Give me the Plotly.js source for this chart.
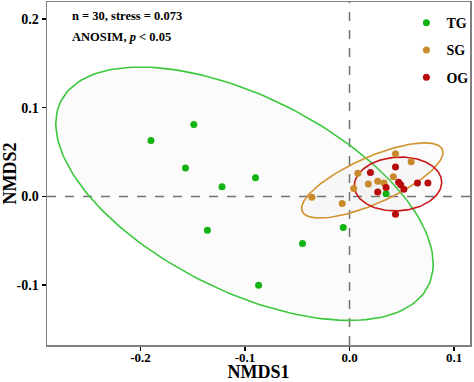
<!DOCTYPE html>
<html>
<head>
<meta charset="utf-8">
<script src="https://cdn.plot.ly/plotly-3.0.1.min.js"></script>
<style>html,body{margin:0;padding:0;background:#fff;}#chart{width:474px;height:382px;}</style>
</head>
<body>
<div id="chart"></div>
<script>
// ---- data ----
const groups = ["TG", "SG", "OG"];
const tgX = [-0.190, -0.149, -0.157, -0.122, -0.090, -0.136, -0.087, -0.045, -0.006, 0.035];
const tgY = [0.063, 0.081, 0.032, 0.011, 0.021, -0.038, -0.100, -0.053, -0.035, 0.003];
const sgX = [-0.036, -0.007, 0.008, 0.004, 0.018, 0.027, 0.033, 0.042, 0.044, 0.059];
const sgY = [-0.001, -0.008, 0.026, 0.009, 0.014, 0.017, 0.015, 0.022, 0.048, 0.039];
const ogX = [0.020, 0.044, 0.027, 0.035, 0.047, 0.049, 0.052, 0.065, 0.075, 0.044];
const ogY = [0.027, 0.033, 0.005, 0.010, 0.016, 0.013, 0.008, 0.015, 0.015, -0.020];
// ellipse centres and shape matrices [sxx, sxy, syy]
const tgCenter = [-0.1005, 0.003];
const tgShape = [0.032607, -0.014247, 0.020362];
const sgCenter = [0.0218, 0.018];
const sgShape = [0.004577, 0.002129, 0.001793];
const ogCenter = [0.0464, 0.014];
const ogShape = [0.001749, 0.0000796, 0.000920];
const xTickVals = [-0.2, -0.1, 0.0, 0.1];
const xTickText = ["-0.2", "-0.1", "0.0", "0.1"];
const yTickVals = [-0.1, 0.0, 0.1, 0.2];
const yTickText = ["-0.1", "0.0", "0.1", "0.2"];

const colors = {TG: "#12b412", SG: "#c98a2c", OG: "#b80c0c"};
const lineColors = {TG: "#3cc83c", SG: "#d2922c", OG: "#c81818"};

function ellipse(c, s) {
  const xs = [], ys = [];
  const a = Math.sqrt(s[0]);
  const k = s[1] / a;
  const b = Math.sqrt(s[2] - k * k);
  for (let i = 0; i <= 180; i++) {
    const t = 2 * Math.PI * i / 180;
    xs.push(c[0] + a * Math.cos(t));
    ys.push(c[1] + k * Math.cos(t) + b * Math.sin(t));
  }
  return {xs, ys};
}

const font = "Liberation Serif, Times New Roman, serif";
const traces = [];
const ell = [[tgCenter, tgShape, "TG"], [sgCenter, sgShape, "SG"], [ogCenter, ogShape, "OG"]];
ell.forEach(([c, s, g]) => {
  const e = ellipse(c, s);
  traces.push({x: e.xs, y: e.ys, mode: "lines", type: "scatter", fill: "toself",
    fillcolor: "rgba(180,180,180,0.05)", line: {color: lineColors[g], width: 1.6},
    showlegend: false, hoverinfo: "skip"});
});
const pts = [[tgX, tgY, "TG"], [sgX, sgY, "SG"], [ogX, ogY, "OG"]];
pts.forEach(([x, y, g]) => {
  traces.push({x: x, y: y, mode: "markers", type: "scatter", name: g, legendgroup: g,
    marker: {color: colors[g], size: 7}});
});

const axisCommon = {
  showline: true, linecolor: "#808080", linewidth: 1.5, mirror: true,
  ticks: "outside", ticklen: 4, tickcolor: "#000", tickwidth: 1.5,
  showgrid: false, zeroline: false, tickmode: "array", automargin: false,
  tickfont: {family: font, size: 14, color: "#000", weight: "bold"}
};

const layout = {
  width: 474, height: 382,
  margin: {l: 47, r: 4, t: 2, b: 37, autoexpand: false},
  paper_bgcolor: "#fff", plot_bgcolor: "#fff",
  showlegend: true,
  legend: {x: 1.008, y: 0.985, xanchor: "right", yanchor: "top", bgcolor: "rgba(0,0,0,0)",
    font: {family: font, size: 14, color: "#000", weight: "bold"}, tracegroupgap: 6,
    itemwidth: 30},
  xaxis: Object.assign({}, axisCommon, {range: [-0.2895, 0.1153], tickvals: xTickVals, ticktext: xTickText,
    ticklabelstandoff: -4, tickfont: {family: font, size: 13, color: "#000", weight: "bold"},
    title: {text: "NMDS1", font: {family: font, size: 18, color: "#000", weight: "bold"}, standoff: 4}}),
  yaxis: Object.assign({}, axisCommon, {range: [-0.1674, 0.219], tickvals: yTickVals, ticktext: yTickText,
    ticklabelstandoff: 0,
    title: {text: "NMDS2", font: {family: font, size: 18, color: "#000", weight: "bold"}, standoff: 4}}),
  shapes: [
    {type: "line", xref: "x", yref: "paper", x0: 0, x1: 0, y0: 0, y1: 1, line: {color: "#707070", width: 1.5, dash: "dash"}, layer: "below"},
    {type: "line", xref: "paper", yref: "y", x0: 0, x1: 1, y0: 0, y1: 0, line: {color: "#707070", width: 1.5, dash: "dash"}, layer: "below"}
  ],
  annotations: [
    {xref: "paper", yref: "paper", x: 0.055, y: 0.985, xanchor: "left", yanchor: "top", showarrow: false,
      text: "<b>n = 30, stress = 0.073</b>", font: {family: font, size: 12.5, color: "#000"}},
    {xref: "paper", yref: "paper", x: 0.055, y: 0.925, xanchor: "left", yanchor: "top", showarrow: false,
      text: "<b>ANOSIM, <i>p</i> &lt; 0.05</b>", font: {family: font, size: 12.5, color: "#000"}}
  ]
};

Plotly.newPlot("chart", traces, layout, {displayModeBar: false, staticPlot: true});
</script>
</body>
</html>
